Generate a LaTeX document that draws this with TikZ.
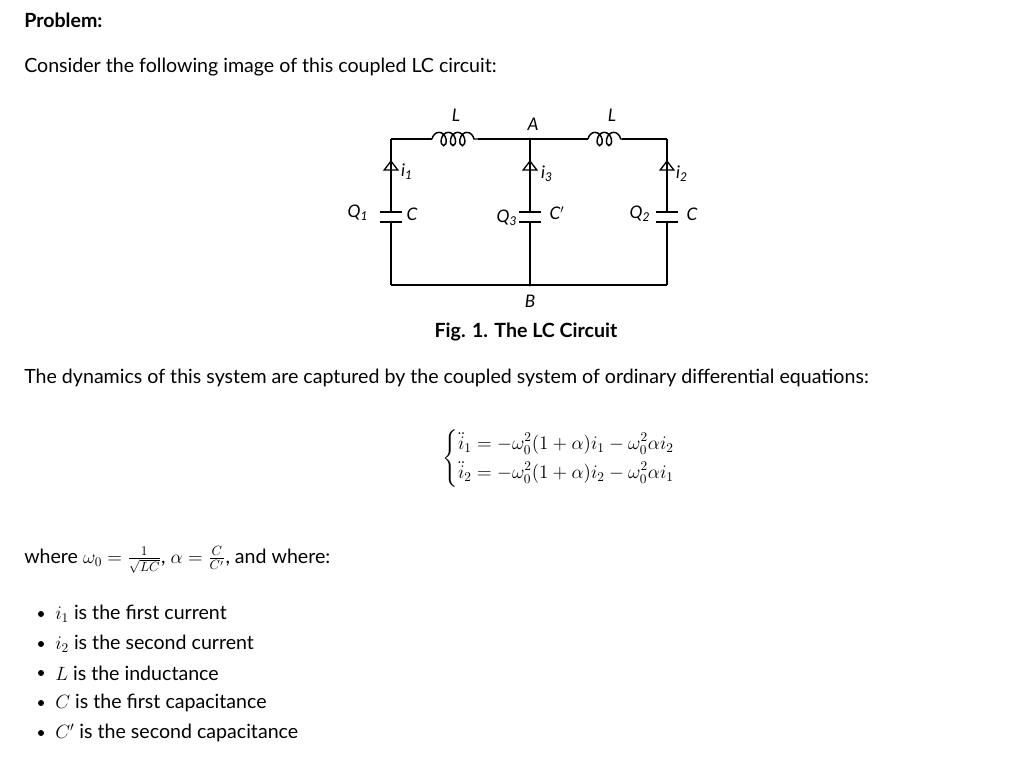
\documentclass[tikz,border=0pt]{standalone}
\usepackage{fontspec}
\setmainfont{Lato}
\usepackage{amsmath}
\usetikzlibrary{decorations.pathmorphing,arrows.meta}
\begin{document}
\begin{tikzpicture}[x=0.75pt,y=-0.75pt,
  txt/.style={anchor=west,inner sep=0pt,font=\fontsize{14.7}{17}\selectfont},
  hand/.style={inner sep=0pt,font=\fontsize{13}{14}\selectfont\itshape},
  wire/.style={line width=1.1pt},
  coilst/.style={wire,decorate,decoration={coil,aspect=0.7,segment length=7pt,amplitude=5pt}}]
\useasboundingbox[fill=white] (0,0) rectangle (1024,776);
\node[txt,font=\fontsize{14.7}{17}\selectfont\bfseries] (t1) at (24,20) {Problem:};
\node[txt] (t2) at (24,67) {Consider the following image of this coupled LC circuit:};
% circuit
\coordinate (TL) at (391,139); \coordinate (TM) at (530,139); \coordinate (TR) at (667,139);
\coordinate (BL) at (391,285); \coordinate (BM) at (530,285); \coordinate (BR) at (667,285);
\coordinate (L1a) at (432,139); \coordinate (L1b) at (478,139);
\coordinate (L2a) at (588,139); \coordinate (L2b) at (622,139);
\draw[wire] (TL) -- (L1a); \draw[coilst] (L1a) -- (L1b); \draw[wire] (L1b) -- (TM) -- (L2a);
\draw[coilst] (L2a) -- (L2b); \draw[wire] (L2b) -- (TR);
\foreach \x/\n in {391/a,530/b,667/c}{
  \draw[wire] (\x,139) -- (\x,212);
  \draw[wire] (\x-11,212) -- (\x+11,212);
  \draw[wire] (\x-11,222) -- (\x+11,222);
  \draw[wire] (\x,222) -- (\x,285);
  \draw[line width=1pt,-{Triangle[open,length=8pt,width=12pt]}] (\x,174) -- (\x,160);
}
\draw[wire] (BL) -- (BR);
\fill (TM) circle (1.5); \fill (BM) circle (1.5);
\node[hand] (lL1) at (456,115) {L};
\node[hand] (lA) at (533,124) {A};
\node[hand] (lL2) at (612,115) {L};
\node[hand] (li1) at (407,172) {i\textsubscript{1}};
\node[hand] (li3) at (547,174) {i\textsubscript{3}};
\node[hand] (li2) at (682,174) {i\textsubscript{2}};
\node[hand] (lQ1) at (358,213) {Q\textsubscript{1}};
\node[hand] (lC1) at (412,214) {C};
\node[hand] (lQ3) at (507,218) {Q\textsubscript{3}};
\node[hand] (lC3) at (557,213) {C$'$};
\node[hand] (lQ2) at (640,214) {Q\textsubscript{2}};
\node[hand] (lC2) at (692,214) {C};
\node[hand] (lB) at (530,301) {B};
\node[inner sep=0pt,font=\fontsize{14.7}{17}\selectfont\bfseries] (fig) at (526,332) {Fig. 1. The LC Circuit};
\node[txt] (t3) at (24,378) {The dynamics of this system are captured by the coupled system of ordinary differential equations:};
\node[inner sep=0pt,font=\fontsize{14.3}{17}\selectfont] (eq) at (559,459) {$\left\{\begin{aligned}\ddot{i}_1&=-\omega_0^2(1+\alpha)i_1-\omega_0^2\alpha i_2\\ \ddot{i}_2&=-\omega_0^2(1+\alpha)i_2-\omega_0^2\alpha i_1\end{aligned}\right.$};
\node[txt] (t4) at (24,560) {where $\omega_0=\frac{1}{\sqrt{LC}}$, $\alpha=\frac{C}{C'}$, and where:};
\foreach \y/\t [count=\i] in {614/{$i_1$ is the first current},644/{$i_2$ is the second current},673/{$L$ is the inductance},703/{$C$ is the first capacitance},733/{$C'$ is the second capacitance}}{
  \fill (41,\y) circle (3);
  \node[txt] (b\i) at (55,\y) {\t};
}
\end{tikzpicture}
\end{document}
